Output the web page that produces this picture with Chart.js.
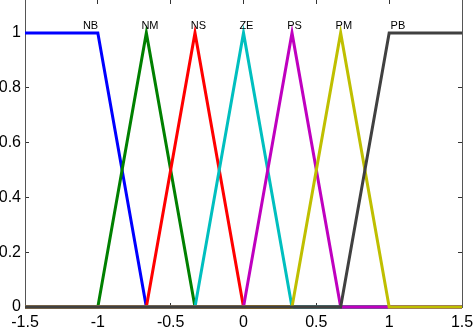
<!DOCTYPE html>
<html>
<head>
<meta charset="utf-8">
<script src="https://cdn.jsdelivr.net/npm/chart.js@4/dist/chart.umd.min.js"></script>
<style>
  html, body { margin: 0; padding: 0; background: #fff; }
  #wrap { width: 474px; height: 330px; }
</style>
</head>
<body>
<div id="wrap"><canvas id="mfChart"></canvas></div>
<script>
// Membership functions (breakpoints over the universe [-1.5, 1.5])
const mfNames = ['NB', 'NM', 'NS', 'ZE', 'PS', 'PM', 'PB'];
const mfColors = ['#0000ff', '#008000', '#ff0000', '#00bfbf', '#bf00bf', '#bfbf00', '#404040'];

const nbX = [-1.5, -1, -0.667, 1.5];          const nbY = [1, 1, 0, 0];
const nmX = [-1.5, -1, -0.667, -0.333, 1.5];  const nmY = [0, 0, 1, 0, 0];
const nsX = [-1.5, -0.667, -0.333, 0, 1.5];   const nsY = [0, 0, 1, 0, 0];
const zeX = [-1.5, -0.333, 0, 0.333, 1.5];    const zeY = [0, 0, 1, 0, 0];
const psX = [-1.5, 0, 0.333, 0.667, 1.5];     const psY = [0, 0, 1, 0, 0];
const pmX = [-1.5, 0.333, 0.667, 1, 1.5];     const pmY = [0, 0, 1, 0, 0];
const pbX = [-1.5, 0.667, 1, 1.5];            const pbY = [0, 0, 1, 1];

// where the name of each set is written
const labelX = [-1.05, -0.642, -0.309, 0.02, 0.35, 0.689, 1.06];
const labelY = 1.027;

const xTicks = [-1.5, -1, -0.5, 0, 0.5, 1, 1.5];
const yTicks = [0, 0.2, 0.4, 0.6, 0.8, 1];

const allX = [nbX, nmX, nsX, zeX, psX, pmX, pbX];
const allY = [nbY, nmY, nsY, zeY, psY, pmY, pbY];

const datasets = mfNames.map(function(name, i) {
  return {
    label: name,
    data: allX[i].map(function(x, j) { return {x: x, y: allY[i][j]}; }),
    showLine: true,
    borderColor: mfColors[i],
    backgroundColor: mfColors[i],
    borderWidth: 3,
    borderJoinStyle: 'miter',
    pointRadius: 0,
    tension: 0,
    clip: false,
    order: mfNames.length - i   // later sets drawn on top, like MATLAB
  };
});

// writes NB, NM ... above the peaks
const mfLabels = {
  id: 'mfLabels',
  afterDatasetsDraw: function(chart) {
    const c = chart.ctx;
    const xs = chart.scales.x, ys = chart.scales.y;
    c.save();
    c.font = '11px "Liberation Sans", Arial, sans-serif';
    c.fillStyle = '#000';
    c.textAlign = 'center';
    c.textBaseline = 'middle';
    mfNames.forEach(function(name, i) {
      c.fillText(name, xs.getPixelForValue(labelX[i]), ys.getPixelForValue(labelY));
    });
    c.restore();
  }
};

const tickFont = { family: '"Liberation Sans", Arial, sans-serif', size: 16 };
const setX = function(s) { s.ticks = xTicks.map(function(v) { return {value: v}; }); };
const setY = function(s) { s.ticks = yTicks.map(function(v) { return {value: v}; }); };
// no label overhang padding, the plot box is fixed
const noPad = function(s) { s.paddingTop = 0; s.paddingBottom = 0; s.paddingLeft = 0; s.paddingRight = 0; };

new Chart(document.getElementById('mfChart').getContext('2d'), {
  type: 'scatter',
  data: { datasets: datasets },
  plugins: [mfLabels],
  options: {
    responsive: true,
    maintainAspectRatio: false,
    animation: false,
    layout: { autoPadding: false, padding: { top: 0, right: 12, bottom: 0, left: 0 } },
    plugins: { legend: { display: false }, tooltip: { enabled: false } },
    scales: {
      x: {
        type: 'linear', position: 'bottom', min: -1.5, max: 1.5,
        afterBuildTicks: setX,
        afterFit: function(s) { s.height = 23; noPad(s); },
        grid: { drawOnChartArea: false, tickLength: -4, color: '#333' },
        border: { color: '#555', width: 1 },
        ticks: { font: tickFont, color: '#000', padding: 10, maxRotation: 0,
          callback: function(v) { return String(v); } }
      },
      x2: {
        type: 'linear', position: 'top', min: -1.5, max: 1.5,
        afterBuildTicks: setX,
        afterFit: function(s) { s.height = 0; noPad(s); },
        grid: { drawOnChartArea: false, tickLength: -4, color: '#333' },
        border: { display: false },
        ticks: { display: false }
      },
      y: {
        type: 'linear', position: 'left', min: 0, max: 1.12,
        afterBuildTicks: setY,
        afterFit: function(s) { s.width = 25; noPad(s); },
        grid: { drawOnChartArea: false, tickLength: -4, color: '#333' },
        border: { color: '#555', width: 1 },
        ticks: { font: tickFont, color: '#000', padding: 8,
          callback: function(v) { return String(v); } }
      },
      y2: {
        type: 'linear', position: 'right', min: 0, max: 1.12,
        afterBuildTicks: setY,
        afterFit: function(s) { s.width = 0; noPad(s); },
        grid: { drawOnChartArea: false, tickLength: -4, color: '#333' },
        border: { color: '#555', width: 1 },
        ticks: { display: false }
      }
    }
  }
});
</script>
</body>
</html>
